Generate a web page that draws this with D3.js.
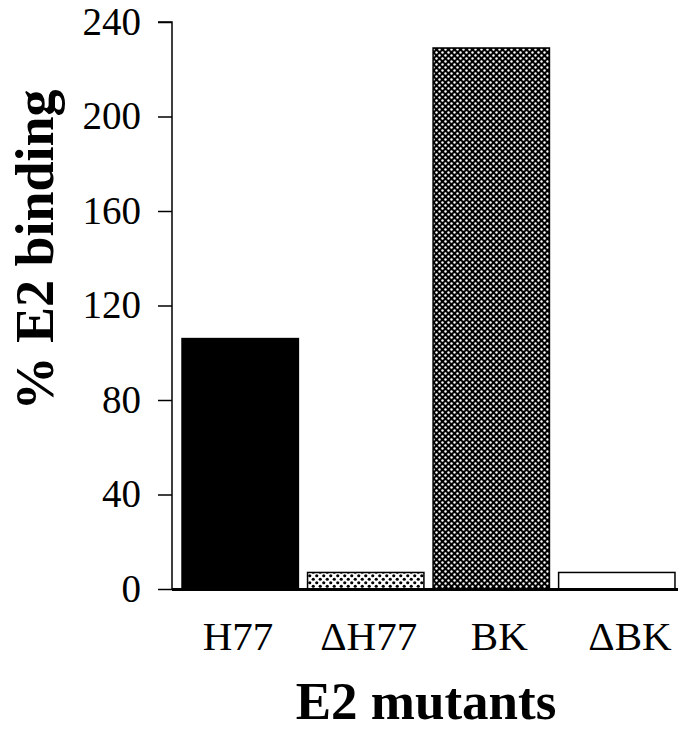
<!DOCTYPE html>
<html>
<head>
<meta charset="utf-8">
<script src="https://cdn.jsdelivr.net/npm/d3@7"></script>
<style>
  body { margin: 0; background: #fff; }
  svg { font-family: "Liberation Serif", "Times New Roman", serif; }
</style>
</head>
<body>
<svg width="685" height="729"></svg>
<script>
// data
var mutants = ["H77", "\u0394H77", "BK", "\u0394BK"];
var binding = [106, 7, 229, 7];
var yTicks = [0, 40, 80, 120, 160, 200, 240];
var fills = ["#000", "url(#dotsLight)", "url(#dotsDark)", "#fff"];

var svg = d3.select("svg");

// patterns
var defs = svg.append("defs");
var light = defs.append("pattern").attr("id", "dotsLight")
    .attr("patternUnits", "userSpaceOnUse").attr("width", 7).attr("height", 7);
light.append("rect").attr("width", 7).attr("height", 7).attr("fill", "#fff");
light.append("circle").attr("cx", 1.75).attr("cy", 1.75).attr("r", 1.6).attr("fill", "#000");
light.append("circle").attr("cx", 5.25).attr("cy", 5.25).attr("r", 1.6).attr("fill", "#000");

var dark = defs.append("pattern").attr("id", "dotsDark")
    .attr("patternUnits", "userSpaceOnUse").attr("width", 6).attr("height", 6);
dark.append("rect").attr("width", 6).attr("height", 6).attr("fill", "#000");
dark.append("circle").attr("cx", 1.5).attr("cy", 1.5).attr("r", 1.2).attr("fill", "#fff");
dark.append("circle").attr("cx", 4.5).attr("cy", 4.5).attr("r", 1.2).attr("fill", "#fff");

var x = d3.scaleBand().domain(mutants).range([177, 680]).paddingInner(0.073).paddingOuter(0.04);
// labels sit a little off the bar centres in the original
var xLab = d3.scalePoint().domain(mutants).range([238, 630]);
var y = d3.scaleLinear().domain([0, 240]).range([589, 22]);

// y axis
var yAxis = svg.append("g")
    .attr("transform", "translate(172,0)")
    .call(d3.axisLeft(y).tickValues(yTicks).tickSize(14).tickPadding(17));
yAxis.select(".domain").attr("stroke", "#000").attr("stroke-width", 1.5)
    .attr("d", "M-14," + y(240) + "H0V" + y(0));
yAxis.selectAll(".tick line").attr("stroke", "#000").attr("stroke-width", 1.5);
yAxis.selectAll(".tick text").attr("font-size", 39).attr("fill", "#000")
    .attr("font-family", "Liberation Serif, serif");

// bars
svg.selectAll(".bar")
  .data(binding)
  .enter().append("rect")
    .attr("class", "bar")
    .attr("x", function(d, i) { return x(mutants[i]); })
    .attr("y", function(d) { return y(d); })
    .attr("width", x.bandwidth())
    .attr("height", function(d) { return y(0) - y(d); })
    .attr("fill", function(d, i) { return fills[i]; })
    .attr("stroke", "#000")
    .attr("stroke-width", 1.5);

// baseline
svg.append("line")
    .attr("x1", 172).attr("x2", 678)
    .attr("y1", y(0) + 0.5).attr("y2", y(0) + 0.5)
    .attr("stroke", "#000").attr("stroke-width", 3);

// category labels
svg.selectAll(".cat")
  .data(mutants)
  .enter().append("text")
    .attr("class", "cat")
    .attr("x", function(d) { return xLab(d); })
    .attr("y", 650)
    .attr("text-anchor", "middle")
    .attr("font-size", 41)
    .text(function(d) { return d; });

// axis titles
svg.append("text")
    .attr("x", 426).attr("y", 719)
    .attr("text-anchor", "middle")
    .attr("font-size", 53).attr("font-weight", "bold")
    .text("E2 mutants");

svg.append("text")
    .attr("transform", "translate(53,250) rotate(-90)")
    .attr("text-anchor", "middle")
    .attr("font-size", 54).attr("font-weight", "bold")
    .text("% E2 binding");
</script>
</body>
</html>
